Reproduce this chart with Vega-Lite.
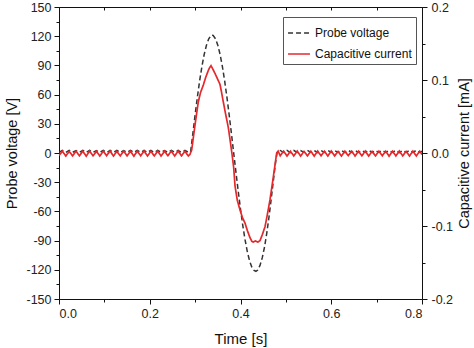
{
  "$schema": "https://vega.github.io/schema/vega-lite/v6.json",
  "width": 363,
  "height": 292,
  "autosize": {"type": "none"},
  "padding": {"left": 59, "top": 7, "right": 52, "bottom": 49},
  "background": "white",
  "config": {
    "view": {"stroke": null},
    "font": "Liberation Sans",
    "axis": {
      "domainColor": "#111",
      "domainWidth": 1,
      "tickColor": "#111",
      "tickWidth": 1,
      "labelFont": "Liberation Sans",
      "labelFontSize": 12.5,
      "labelColor": "#222",
      "titleFont": "Liberation Sans",
      "titleFontSize": 14.5,
      "titleFontWeight": "normal",
      "titleColor": "#111",
      "grid": false
    }
  },
  "datasets": {
    "voltage": [
      {"t": 0, "voltage": 0.6}, {"t": 0.0075, "voltage": 2.6}, {"t": 0.015, "voltage": 0.5}, {"t": 0.0225, "voltage": 2.7},
      {"t": 0.03, "voltage": 0.7}, {"t": 0.0375, "voltage": 2.5}, {"t": 0.045, "voltage": 0.6}, {"t": 0.0525, "voltage": 2.6},
      {"t": 0.06, "voltage": 0.5}, {"t": 0.0675, "voltage": 2.8}, {"t": 0.075, "voltage": 0.6}, {"t": 0.0825, "voltage": 2.5},
      {"t": 0.09, "voltage": 0.7}, {"t": 0.0975, "voltage": 2.6}, {"t": 0.105, "voltage": 0.5}, {"t": 0.1125, "voltage": 2.7},
      {"t": 0.12, "voltage": 0.6}, {"t": 0.1275, "voltage": 2.6}, {"t": 0.135, "voltage": 0.6}, {"t": 0.1425, "voltage": 2.5},
      {"t": 0.15, "voltage": 0.7}, {"t": 0.1575, "voltage": 2.7}, {"t": 0.165, "voltage": 0.5}, {"t": 0.1725, "voltage": 2.6},
      {"t": 0.18, "voltage": 0.6}, {"t": 0.1875, "voltage": 2.6}, {"t": 0.195, "voltage": 0.6}, {"t": 0.2025, "voltage": 2.8},
      {"t": 0.21, "voltage": 0.5}, {"t": 0.2175, "voltage": 2.6}, {"t": 0.225, "voltage": 0.7}, {"t": 0.2325, "voltage": 2.5},
      {"t": 0.24, "voltage": 0.6}, {"t": 0.2475, "voltage": 2.7}, {"t": 0.255, "voltage": 0.6}, {"t": 0.2625, "voltage": 2.6},
      {"t": 0.27, "voltage": 0.5}, {"t": 0.2775, "voltage": 2.6}, {"t": 0.285, "voltage": 0.8},
      {"t": 0.29, "voltage": 1.0}, {"t": 0.295, "voltage": 19.9}, {"t": 0.3, "voltage": 39.3}, {"t": 0.305, "voltage": 57.6},
      {"t": 0.31, "voltage": 74.3}, {"t": 0.315, "voltage": 89.0}, {"t": 0.32, "voltage": 101.3}, {"t": 0.325, "voltage": 110.8},
      {"t": 0.33, "voltage": 117.3}, {"t": 0.335, "voltage": 120.6}, {"t": 0.3375, "voltage": 121.3}, {"t": 0.34, "voltage": 120.6},
      {"t": 0.345, "voltage": 117.3}, {"t": 0.35, "voltage": 110.8}, {"t": 0.355, "voltage": 101.3}, {"t": 0.36, "voltage": 89.0},
      {"t": 0.365, "voltage": 74.3}, {"t": 0.37, "voltage": 57.6}, {"t": 0.375, "voltage": 39.3}, {"t": 0.38, "voltage": 19.9},
      {"t": 0.385, "voltage": 0}, {"t": 0.39, "voltage": -19.9}, {"t": 0.395, "voltage": -39.3}, {"t": 0.4, "voltage": -57.6},
      {"t": 0.405, "voltage": -74.3}, {"t": 0.41, "voltage": -89.0}, {"t": 0.415, "voltage": -101.3}, {"t": 0.42, "voltage": -110.8},
      {"t": 0.425, "voltage": -117.3}, {"t": 0.43, "voltage": -120.6}, {"t": 0.434, "voltage": -121.5}, {"t": 0.438, "voltage": -120.2},
      {"t": 0.443, "voltage": -115.5}, {"t": 0.448, "voltage": -107.5}, {"t": 0.453, "voltage": -96.5}, {"t": 0.458, "voltage": -82.0},
      {"t": 0.463, "voltage": -65.0}, {"t": 0.468, "voltage": -46.0}, {"t": 0.473, "voltage": -26.0}, {"t": 0.478, "voltage": -7.0},
      {"t": 0.481, "voltage": 1.5},
      {"t": 0.4875, "voltage": 2.6}, {"t": 0.495, "voltage": 0.6}, {"t": 0.5025, "voltage": 2.7}, {"t": 0.51, "voltage": 0.5},
      {"t": 0.5175, "voltage": 2.6}, {"t": 0.525, "voltage": 0.7}, {"t": 0.5325, "voltage": 2.5}, {"t": 0.54, "voltage": 0.6},
      {"t": 0.5475, "voltage": 2.8}, {"t": 0.555, "voltage": 0.6}, {"t": 0.5625, "voltage": 2.6}, {"t": 0.57, "voltage": 0.5},
      {"t": 0.5775, "voltage": 2.6}, {"t": 0.585, "voltage": 0.7}, {"t": 0.5925, "voltage": 2.7}, {"t": 0.6, "voltage": 0.6},
      {"t": 0.6075, "voltage": 2.5}, {"t": 0.615, "voltage": 0.6}, {"t": 0.6225, "voltage": 2.6}, {"t": 0.63, "voltage": 0.5},
      {"t": 0.6375, "voltage": 2.7}, {"t": 0.645, "voltage": 0.6}, {"t": 0.6525, "voltage": 2.6}, {"t": 0.66, "voltage": 0.7},
      {"t": 0.6675, "voltage": 2.5}, {"t": 0.675, "voltage": 0.6}, {"t": 0.6825, "voltage": 2.8}, {"t": 0.69, "voltage": 0.5},
      {"t": 0.6975, "voltage": 2.6}, {"t": 0.705, "voltage": 0.6}, {"t": 0.7125, "voltage": 2.6}, {"t": 0.72, "voltage": 0.7},
      {"t": 0.7275, "voltage": 2.5}, {"t": 0.735, "voltage": 0.6}, {"t": 0.7425, "voltage": 2.7}, {"t": 0.75, "voltage": 0.5},
      {"t": 0.7575, "voltage": 2.6}, {"t": 0.765, "voltage": 0.6}, {"t": 0.7725, "voltage": 2.6}, {"t": 0.78, "voltage": 0.7},
      {"t": 0.7875, "voltage": 2.7}, {"t": 0.795, "voltage": 0.6}, {"t": 0.8, "voltage": 1.8}
    ],
    "current": [
      {"t": 0, "current": -0.0035}, {"t": 0.0075, "current": 0.0025}, {"t": 0.015, "current": -0.0042}, {"t": 0.0225, "current": 0.0022},
      {"t": 0.03, "current": -0.004}, {"t": 0.0375, "current": 0.0026}, {"t": 0.045, "current": -0.0038}, {"t": 0.0525, "current": 0.0024},
      {"t": 0.06, "current": -0.0043}, {"t": 0.0675, "current": 0.0027}, {"t": 0.075, "current": -0.0039}, {"t": 0.0825, "current": 0.0023},
      {"t": 0.09, "current": -0.0041}, {"t": 0.0975, "current": 0.0025}, {"t": 0.105, "current": -0.0037}, {"t": 0.1125, "current": 0.0028},
      {"t": 0.12, "current": -0.0042}, {"t": 0.1275, "current": 0.0022}, {"t": 0.135, "current": -0.004}, {"t": 0.1425, "current": 0.0026},
      {"t": 0.15, "current": -0.0039}, {"t": 0.1575, "current": 0.0024}, {"t": 0.165, "current": -0.0043}, {"t": 0.1725, "current": 0.0025},
      {"t": 0.18, "current": -0.0038}, {"t": 0.1875, "current": 0.0027}, {"t": 0.195, "current": -0.0041}, {"t": 0.2025, "current": 0.0023},
      {"t": 0.21, "current": -0.004}, {"t": 0.2175, "current": 0.0026}, {"t": 0.225, "current": -0.0042}, {"t": 0.2325, "current": 0.0024},
      {"t": 0.24, "current": -0.0037}, {"t": 0.2475, "current": 0.0025}, {"t": 0.255, "current": -0.0041}, {"t": 0.2625, "current": 0.0027},
      {"t": 0.27, "current": -0.0039}, {"t": 0.2775, "current": 0.0023}, {"t": 0.285, "current": -0.004},
      {"t": 0.2885, "current": -0.002}, {"t": 0.2924, "current": 0.004}, {"t": 0.296, "current": 0.021}, {"t": 0.2997, "current": 0.038},
      {"t": 0.3035, "current": 0.055}, {"t": 0.307, "current": 0.07}, {"t": 0.312, "current": 0.083}, {"t": 0.318, "current": 0.093},
      {"t": 0.323, "current": 0.103}, {"t": 0.329, "current": 0.113}, {"t": 0.332, "current": 0.117}, {"t": 0.335, "current": 0.1196},
      {"t": 0.339, "current": 0.115}, {"t": 0.3438, "current": 0.109}, {"t": 0.349, "current": 0.102}, {"t": 0.3548, "current": 0.094},
      {"t": 0.358, "current": 0.084}, {"t": 0.3621, "current": 0.07}, {"t": 0.367, "current": 0.054}, {"t": 0.3731, "current": 0.035},
      {"t": 0.377, "current": 0.018}, {"t": 0.381, "current": 0.0}, {"t": 0.385, "current": -0.02}, {"t": 0.3879, "current": -0.045},
      {"t": 0.393, "current": -0.065}, {"t": 0.3989, "current": -0.078}, {"t": 0.404, "current": -0.088}, {"t": 0.4099, "current": -0.096},
      {"t": 0.415, "current": -0.106}, {"t": 0.4209, "current": -0.116}, {"t": 0.425, "current": -0.121}, {"t": 0.4282, "current": -0.122},
      {"t": 0.433, "current": -0.1205}, {"t": 0.438, "current": -0.122}, {"t": 0.443, "current": -0.12}, {"t": 0.448, "current": -0.112},
      {"t": 0.454, "current": -0.101}, {"t": 0.459, "current": -0.085}, {"t": 0.465, "current": -0.064}, {"t": 0.4723, "current": -0.033},
      {"t": 0.477, "current": -0.012}, {"t": 0.4798, "current": 0.0}, {"t": 0.483, "current": 0.0025},
      {"t": 0.4875, "current": -0.0038}, {"t": 0.495, "current": 0.0026}, {"t": 0.5025, "current": -0.0041}, {"t": 0.51, "current": 0.0024},
      {"t": 0.5175, "current": -0.004}, {"t": 0.525, "current": 0.0027}, {"t": 0.5325, "current": -0.0042}, {"t": 0.54, "current": 0.0023},
      {"t": 0.5475, "current": -0.0039}, {"t": 0.555, "current": 0.0025}, {"t": 0.5625, "current": -0.0043}, {"t": 0.57, "current": 0.0026},
      {"t": 0.5775, "current": -0.0038}, {"t": 0.585, "current": 0.0024}, {"t": 0.5925, "current": -0.0041}, {"t": 0.6, "current": 0.0027},
      {"t": 0.6075, "current": -0.004}, {"t": 0.615, "current": 0.0022}, {"t": 0.6225, "current": -0.0042}, {"t": 0.63, "current": 0.0026},
      {"t": 0.6375, "current": -0.0037}, {"t": 0.645, "current": 0.0025}, {"t": 0.6525, "current": -0.0041}, {"t": 0.66, "current": 0.0024},
      {"t": 0.6675, "current": -0.0039}, {"t": 0.675, "current": 0.0027}, {"t": 0.6825, "current": -0.0042}, {"t": 0.69, "current": 0.0023},
      {"t": 0.6975, "current": -0.004}, {"t": 0.705, "current": 0.0026}, {"t": 0.7125, "current": -0.0038}, {"t": 0.72, "current": 0.0025},
      {"t": 0.7275, "current": -0.0043}, {"t": 0.735, "current": 0.0024}, {"t": 0.7425, "current": -0.004}, {"t": 0.75, "current": 0.0027},
      {"t": 0.7575, "current": -0.0039}, {"t": 0.765, "current": 0.0023}, {"t": 0.7725, "current": -0.0041}, {"t": 0.78, "current": 0.0026},
      {"t": 0.7875, "current": -0.004}, {"t": 0.795, "current": 0.0025}, {"t": 0.8, "current": -0.002}
    ]
  },
  "layer": [
    {
      "data": {"name": "voltage"},
      "mark": {"type": "line", "strokeWidth": 1.5, "clip": true},
      "encoding": {
        "x": {
          "field": "t", "type": "quantitative",
          "scale": {"domain": [0, 0.8], "nice": false, "zero": false},
          "axis": {
            "orient": "bottom",
            "title": "Time [s]",
            "titleFontSize": 15,
            "values": [0, 0.1, 0.2, 0.3, 0.4, 0.5, 0.6, 0.7, 0.8],
            "labelExpr": "round(datum.value*10) % 2 === 0 ? format(datum.value, '.1f') : ''",
            "tickSize": {"condition": {"test": "round(datum.value*10) % 2 === 0", "value": 5}, "value": 3},
            "labelPadding": 3,
            "titlePadding": 12
          }
        },
        "y": {
          "field": "voltage", "type": "quantitative",
          "scale": {"domain": [-150, 150], "nice": false},
          "axis": {
            "orient": "left",
            "title": "Probe voltage [V]",
            "values": [-150, -135, -120, -105, -90, -75, -60, -45, -30, -15, 0, 15, 30, 45, 60, 75, 90, 105, 120, 135, 150],
            "labelExpr": "datum.value % 30 === 0 ? '' + datum.value : ''",
            "tickSize": {"condition": {"test": "datum.value % 30 === 0", "value": 5}, "value": 3},
            "labelPadding": 3,
            "titlePadding": 6
          }
        },
        "color": {
          "datum": "Probe voltage", "type": "nominal",
          "scale": {"domain": ["Probe voltage", "Capacitive current"], "range": ["#333333", "#e5282b"]},
          "legend": {"title": null, "orient": "none", "legendX": 224, "legendY": 10, "symbolType": "stroke", "symbolSize": 480, "symbolStrokeWidth": 1.6, "labelFontSize": 12, "labelColor": "#111", "labelOffset": 4, "strokeColor": "#555", "padding": 4, "rowPadding": 3, "labelLimit": 200, "fillColor": "white"}
        },
        "strokeDash": {
          "datum": "Probe voltage", "type": "nominal",
          "scale": {"domain": ["Probe voltage", "Capacitive current"], "range": [[5, 3], [1, 0]]},
          "legend": {"title": null, "orient": "none", "legendX": 224, "legendY": 10, "symbolType": "stroke", "symbolSize": 480, "symbolStrokeWidth": 1.6, "labelFontSize": 12, "labelColor": "#111", "labelOffset": 4, "strokeColor": "#555", "padding": 4, "rowPadding": 3, "labelLimit": 200, "fillColor": "white"}
        }
      }
    },
    {
      "data": {"name": "current"},
      "mark": {"type": "line", "strokeWidth": 1.7, "clip": true},
      "encoding": {
        "x": {
          "field": "t", "type": "quantitative",
          "axis": {
            "orient": "top",
            "title": null,
            "labels": false,
            "values": [0, 0.1, 0.2, 0.3, 0.4, 0.5, 0.6, 0.7, 0.8],
            "tickSize": -3
          }
        },
        "y": {
          "field": "current", "type": "quantitative",
          "scale": {"domain": [-0.2, 0.2], "nice": false},
          "axis": {
            "orient": "right",
            "title": "Capacitive current [mA]",
            "titleAngle": 270,
            "titleBaseline": "top",
            "values": [-0.2, -0.15, -0.1, -0.05, 0, 0.05, 0.1, 0.15, 0.2],
            "labelExpr": "abs(round(datum.value*100)) % 10 === 0 ? replace(format(datum.value, '.1f'), '\u2212', '-') : ''",
            "tickSize": {"condition": {"test": "abs(round(datum.value*100)) % 10 === 0", "value": 5}, "value": 3},
            "labelPadding": 4,
            "titlePadding": 5
          }
        },
        "color": {
          "datum": "Capacitive current", "type": "nominal",
          "scale": {"domain": ["Probe voltage", "Capacitive current"], "range": ["#333333", "#e5282b"]},
          "legend": {"title": null, "orient": "none", "legendX": 224, "legendY": 10, "symbolType": "stroke", "symbolSize": 480, "symbolStrokeWidth": 1.6, "labelFontSize": 12, "labelColor": "#111", "labelOffset": 4, "strokeColor": "#555", "padding": 4, "rowPadding": 3, "labelLimit": 200, "fillColor": "white"}
        },
        "strokeDash": {
          "datum": "Capacitive current", "type": "nominal",
          "scale": {"domain": ["Probe voltage", "Capacitive current"], "range": [[5, 3], [1, 0]]},
          "legend": {"title": null, "orient": "none", "legendX": 224, "legendY": 10, "symbolType": "stroke", "symbolSize": 480, "symbolStrokeWidth": 1.6, "labelFontSize": 12, "labelColor": "#111", "labelOffset": 4, "strokeColor": "#555", "padding": 4, "rowPadding": 3, "labelLimit": 200, "fillColor": "white"}
        }
      }
    }
  ],
  "resolve": {"scale": {"y": "independent"}, "axis": {"x": "independent", "y": "independent"}}
}
